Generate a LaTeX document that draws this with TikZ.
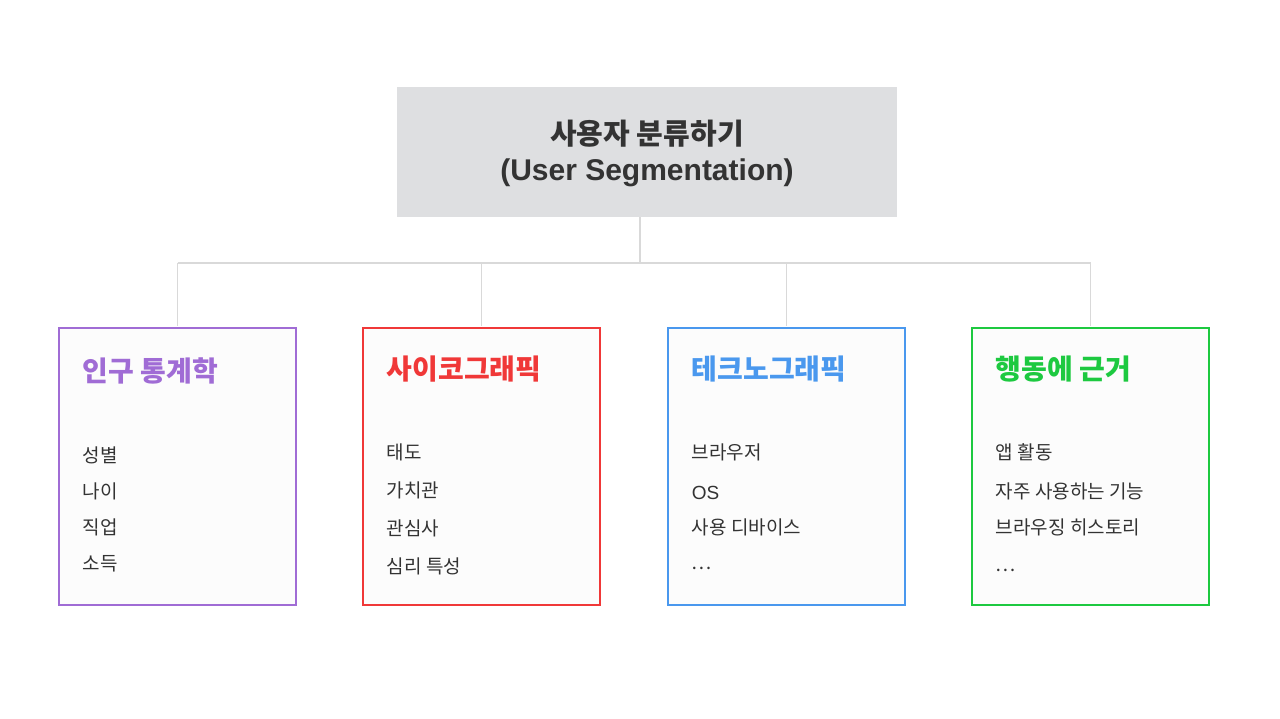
\documentclass[tikz,border=0pt]{standalone}
\usepackage{fontspec}
\setmainfont{Noto Sans CJK KR}
\newfontfamily\latinbold{Liberation Sans}
\usetikzlibrary{calc}
\definecolor{topgray}{HTML}{DEDFE1}
\definecolor{linkgray}{HTML}{D9D9D9}
\definecolor{textdark}{HTML}{333333}
\definecolor{boxfill}{HTML}{FCFCFC}
\definecolor{demopurple}{HTML}{A06CD5}
\definecolor{psyred}{HTML}{F03838}
\definecolor{techblue}{HTML}{4A98EE}
\definecolor{actgreen}{HTML}{1DC940}
\tikzset{
	topbox/.style={fill=topgray, draw=none, minimum width=500pt, minimum height=130pt, inner sep=0pt},
	catbox/.style={draw=#1, line width=2.5pt, fill=boxfill, minimum width=237pt, minimum height=277pt, inner sep=0pt},
	heading/.style={anchor=west, inner sep=0pt, text=#1, font=\fontsize{28}{28}\selectfont\bfseries},
	item/.style={anchor=west, inner sep=0pt, text=textdark, font=\fontsize{19}{19}\selectfont},
	link/.style={draw=linkgray, line width=1.5pt}
}
\begin{document}
\begin{tikzpicture}[x=1pt, y=-1pt, line cap=butt]
	\useasboundingbox (0,0) rectangle (1280,718);
	
	% Top box
	\node[topbox] (top) at (647,152) {};
	\node[inner sep=0pt, text=textdark, font=\fontsize{29}{29}\selectfont\bfseries] (topkr) at (647,134) {사용자 분류하기};
	\node[inner sep=0pt, text=textdark, font=\fontsize{30}{30}\selectfont\latinbold\bfseries] (topen) at (647,173) {(User Segmentation)};
	
	% Category boxes
	\node[catbox=demopurple] (b1) at (177.5,466.5) {};
	\node[catbox=psyred] (b2) at (481.5,466.5) {};
	\node[catbox=techblue] (b3) at (786.5,466.5) {};
	\node[catbox=actgreen] (b4) at (1090.5,466.5) {};
	
	% Connectors
	\coordinate (bus) at (640,263);
	\draw[link] (top.south -| bus) -- (bus);
	\draw[link] (b1.north |- bus) -- (b4.north |- bus);
	\foreach \b in {b1,b2,b3,b4}
		\draw[link] (\b.north |- bus) -- ([yshift=1.25pt]\b.north);
	
	% Headings
	\node[heading=demopurple] (h1) at ($(b1.north west)+(25,44)$) {인구 통계학};
	\node[heading=psyred] (h2) at ($(b2.north west)+(25,42)$) {사이코그래픽};
	\node[heading=techblue] (h3) at ($(b3.north west)+(25,42)$) {테크노그래픽};
	\node[heading=actgreen] (h4) at ($(b4.north west)+(25,42)$) {행동에 근거};
	
	% Items
	\node[item] (i11) at ($(b1.north west)+(25,129)$) {성별};
	\node[item] (i12) at ($(b1.north west)+(25,165)$) {나이};
	\node[item] (i13) at ($(b1.north west)+(25,201)$) {직업};
	\node[item] (i14) at ($(b1.north west)+(25,237)$) {소득};
	
	\node[item] (i21) at ($(b2.north west)+(25,126)$) {태도};
	\node[item] (i22) at ($(b2.north west)+(25,164)$) {가치관};
	\node[item] (i23) at ($(b2.north west)+(25,202)$) {관심사};
	\node[item] (i24) at ($(b2.north west)+(25,240)$) {심리 특성};
	
	\node[item] (i31) at ($(b3.north west)+(25,126)$) {브라우저};
	\node[item, font=\fontsize{19}{19}\selectfont\latinbold] (i32) at ($(b3.north west)+(25,166)$) {OS};
	\node[item] (i33) at ($(b3.north west)+(25,201)$) {사용 디바이스};
	\node[item] (i34) at ($(b3.north west)+(25,242)$) {…};
	
	\node[item] (i41) at ($(b4.north west)+(25,126)$) {앱 활동};
	\node[item] (i42) at ($(b4.north west)+(25,165)$) {자주 사용하는 기능};
	\node[item] (i43) at ($(b4.north west)+(25,201)$) {브라우징 히스토리};
	\node[item] (i44) at ($(b4.north west)+(25,244)$) {…};
	
\end{tikzpicture}
\end{document}
